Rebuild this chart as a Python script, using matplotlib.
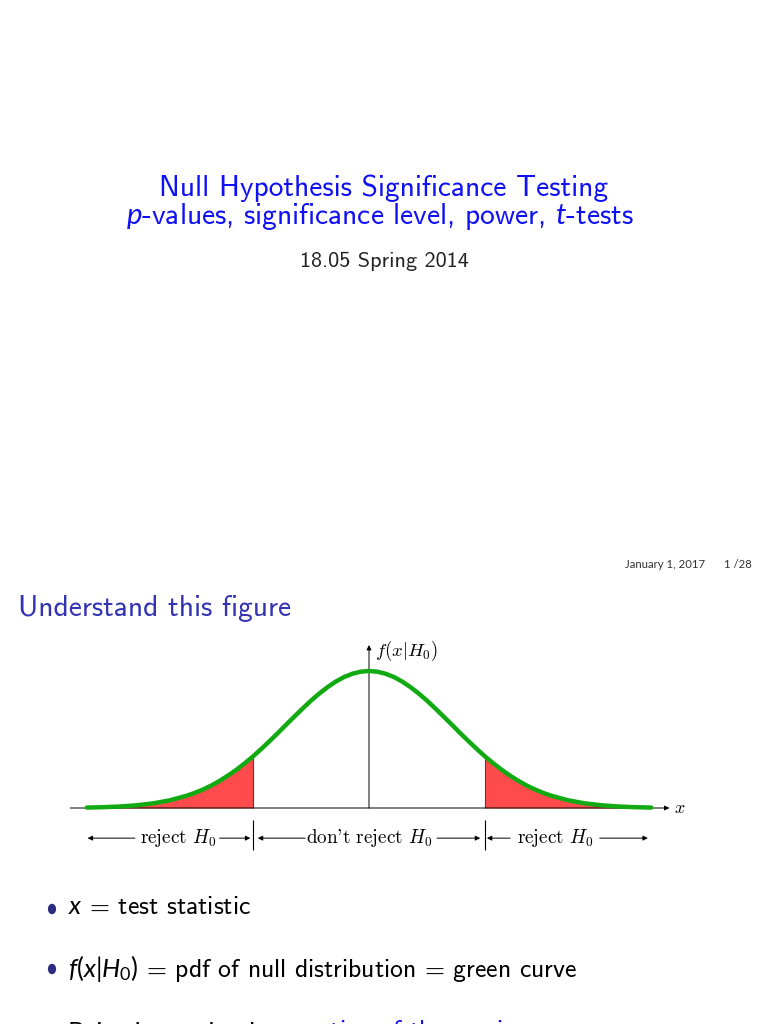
import matplotlib
matplotlib.use("Agg")
import matplotlib.pyplot as plt
import numpy as np

# curve heights (peak = 1), z in standard deviations
z_vals = [-3.4, -3.2, -3.0, -2.8, -2.6, -2.4, -2.2, -2.1, -2.0, -1.9, -1.8,
          -1.7, -1.6, -1.5, -1.4, -1.3, -1.2, -1.1, -1.0, -0.9, -0.8, -0.7,
          -0.6, -0.5, -0.4, -0.3, -0.2, -0.1, 0.0, 0.1, 0.2, 0.3, 0.4, 0.5,
          0.6, 0.7, 0.8, 0.9, 1.0, 1.1, 1.2, 1.3, 1.4, 1.5, 1.6, 1.7, 1.8,
          1.9, 2.0, 2.1, 2.2, 2.4, 2.6, 2.8, 3.0, 3.2, 3.4]
f_vals = [0.003, 0.006, 0.011, 0.020, 0.034, 0.056, 0.089, 0.110, 0.135,
          0.164, 0.198, 0.236, 0.278, 0.325, 0.375, 0.430, 0.487, 0.546,
          0.607, 0.667, 0.726, 0.783, 0.835, 0.882, 0.923, 0.956, 0.980,
          0.995, 1.000, 0.995, 0.980, 0.956, 0.923, 0.882, 0.835, 0.783,
          0.726, 0.667, 0.607, 0.546, 0.487, 0.430, 0.375, 0.325, 0.278,
          0.236, 0.198, 0.164, 0.135, 0.110, 0.089, 0.056, 0.034, 0.020,
          0.011, 0.006, 0.003]
cutoff = 1.4

title_lines = ["Null Hypothesis Significance Testing",
               "$p$-values, significance level, power, $t$-tests"]
subtitle = "18.05 Spring 2014"
footer_date = "January 1, 2017"
footer_page = "1 /28"
frame_title = "Understand this figure"
bullets = ["$x$ = test statistic",
           "$f(x|H_0)$ = pdf of null distribution = green curve"]

plt.rcParams["mathtext.fontset"] = "custom"
plt.rcParams["mathtext.rm"] = "Lato"
plt.rcParams["mathtext.it"] = "Lato:italic"

W, H = 768, 1024
fig = plt.figure(figsize=(W / 100, H / 100), dpi=100)
fig.patch.set_facecolor("white")


def px(x, y):
    return x / W, 1 - y / H


SANS = "cmss10"
MATH = "custom"
BLUE = "#1010f5"

# ---- slide 1 ----
fig.text(*px(384, 188), title_lines[0], ha="center", va="center",
         family=SANS, math_fontfamily=MATH, fontsize=21.2, color=BLUE)
fig.text(*px(380, 216), title_lines[1], ha="center", va="center",
         family=SANS, math_fontfamily=MATH, fontsize=21.2, color=BLUE)
fig.text(*px(384, 261), subtitle, ha="center", va="center",
         family=SANS, fontsize=16, color="#222222")
fig.text(*px(705, 565), footer_date, ha="right", va="center",
         family="Lato", fontsize=8.2, color="#333333")
fig.text(*px(752, 565), footer_page, ha="right", va="center",
         family="Lato", fontsize=8.2, color="#333333")

# ---- slide 2 ----
fig.text(*px(18, 609), frame_title, ha="left", va="center",
         family=SANS, fontsize=21.2, color="#3333b3")

# figure axes: z units horizontally, pdf units (peak = 1) vertically
sig_px, peak_px = 83, 137
x0, x1 = -3.7, 3.7
y0, y1 = -0.35, 1.25
left = 369 + x0 * sig_px
bottom = 808 + (-y0) * peak_px
ax = fig.add_axes([left / W, 1 - bottom / H,
                   (x1 - x0) * sig_px / W, (y1 - y0) * peak_px / H])
ax.set_xlim(x0, x1)
ax.set_ylim(y0, y1)
ax.axis("off")

z = np.array(z_vals)
f = np.array(f_vals)
ax.fill_between(z, 0, f, where=z <= -cutoff, color="#ff4b4b", lw=0)
ax.fill_between(z, 0, f, where=z >= cutoff, color="#ff4b4b", lw=0)
ax.vlines([-cutoff, cutoff], 0, f_vals[z_vals.index(cutoff)], color="#444444", lw=0.8)
ax.plot(z, f, color="#12aa12", lw=3.2, solid_capstyle="round", zorder=5)

arrow = dict(arrowstyle="-|>", lw=0.7, color="black", mutation_scale=7,
             shrinkA=0, shrinkB=0)
ax.annotate("", xy=(3.62, 0), xytext=(-3.6, 0), arrowprops=arrow)
ax.annotate("", xy=(0, 1.19), xytext=(0, 0), arrowprops=arrow)
ax.text(3.68, 0, "$x$", ha="left", va="center", fontsize=13, math_fontfamily="cm")
ax.text(0.07, 1.15, "$f(x|H_0)$", ha="left", va="center", fontsize=13.5,
        math_fontfamily="cm")

# region labels under the axis
ax.vlines([-cutoff, cutoff], -0.09, -0.31, color="black", lw=0.8)
lab_y = -0.22
labels = [(-2.30, r"reject $H_0$"), (0.0, r"don't reject $H_0$"), (2.24, r"reject $H_0$")]
for zc, s in labels:
    ax.text(zc, lab_y, s, ha="center", va="center", family="cmr10",
            math_fontfamily="cm", fontsize=13.8)
side = [(-2.82, -3.39), (-1.80, -1.43), (-0.77, -1.34), (0.82, 1.34),
        (1.70, 1.42), (2.78, 3.36)]
for a, b in side:
    ax.annotate("", xy=(b, lab_y), xytext=(a, lab_y), arrowprops=arrow)

# bullets
bullet_y = [908, 968]
for yb, s in zip(bullet_y, bullets):
    fig.text(*px(68, yb), s, ha="left", va="center", family=SANS,
             math_fontfamily=MATH, fontsize=18.5, color="black")
    fig.patches.append(plt.Circle(px(52, yb + 1), 3.4 / W,
                                  transform=fig.transFigure, color="#2d2d80"))

# last line, cut off by the bottom edge
t = fig.text(*px(68, 1045), "Rejection region is ", ha="left", va="bottom",
             family=SANS, fontsize=18.5, color="black")
ax.annotate("a portion of the $x$-axis", xy=(1.0, 0.0), xycoords=t,
            ha="left", va="bottom", family=SANS, math_fontfamily=MATH,
            fontsize=18.5, color=BLUE, annotation_clip=False)

fig.savefig("out.png", dpi=100)
